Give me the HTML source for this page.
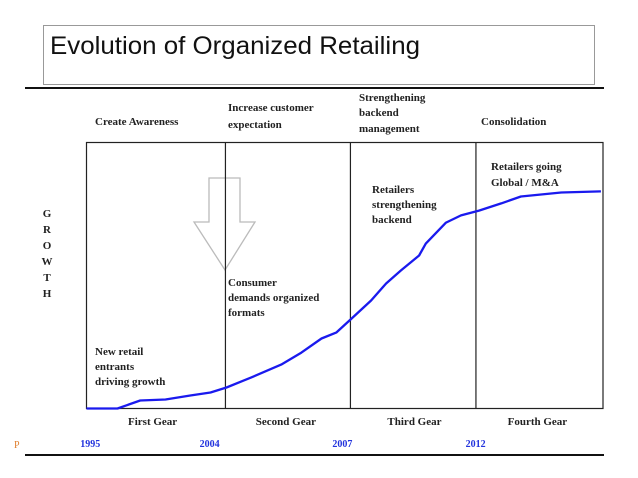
<!DOCTYPE html>
<html><head><meta charset="utf-8"><style>
body{margin:0;background:#fff;}
svg{display:block;}
.h{font-family:"Liberation Serif",serif;font-weight:bold;font-size:11px;fill:#222;}
</style></head><body>
<svg width="638" height="478">
<rect x="43.5" y="25.5" width="551" height="59" fill="none" stroke="#999"/>
<text x="50" y="54" font-family="Liberation Sans,sans-serif" font-size="25" textLength="370" lengthAdjust="spacingAndGlyphs" fill="#111">Evolution of Organized Retailing</text>
<line x1="25" y1="88" x2="604" y2="88" stroke="#111" stroke-width="2"/>
<line x1="25" y1="455" x2="604" y2="455" stroke="#111" stroke-width="2"/>
<g class="h">
<text x="95" y="125">Create Awareness</text>
<text x="228" y="111">Increase customer</text><text x="228" y="128">expectation</text>
<text x="359" y="101">Strengthening</text><text x="359" y="116">backend</text><text x="359" y="132">management</text>
<text x="481" y="125">Consolidation</text>
</g>
<path d="M209,178 H240 V222 H255 L225,270 L194,222 H209 Z" fill="none" stroke="#bbb" stroke-width="1.3"/>
<rect x="86.5" y="142.5" width="516.5" height="266" fill="none" stroke="#222" stroke-width="1.2"/>
<g id="dividers"></g>
<path id="curve" fill="none" stroke="#1a1aee" stroke-width="2.3" stroke-linejoin="round"/>
<g class="h">
<text x="491" y="170">Retailers going</text><text x="491" y="186">Global / M&amp;A</text>
<text x="372" y="193">Retailers</text><text x="372" y="208">strengthening</text><text x="372" y="223">backend</text>
<text x="228" y="286">Consumer</text><text x="228" y="301">demands organized</text><text x="228" y="316">formats</text>
<text x="95" y="355">New retail</text><text x="95" y="370">entrants</text><text x="95" y="385">driving growth</text>
</g>
<g class="h" font-size="12">
<text x="47" y="217" text-anchor="middle">G</text><text x="47" y="233" text-anchor="middle">R</text><text x="47" y="249" text-anchor="middle">O</text><text x="47" y="265" text-anchor="middle">W</text><text x="47" y="281" text-anchor="middle">T</text><text x="47" y="297" text-anchor="middle">H</text>
</g>
<g id="gears" class="h"></g>
<g id="years" class="h"></g>
<text x="14" y="448" font-family="Liberation Serif,serif" font-size="10" fill="#e08030">P</text>
</svg>
<script>
const progress=[0,6,10.4,15.3,20.1,24,27.1,31.9,37.7,41.6,45.5,48.4,51.3,55.1,58,60.9,64.4,65.7,69.6,72.5,76,80.3,84.1,91.9,99.6];
const growth=[0,0,3,3.4,4.9,6,7.9,11.7,16.5,21,26.3,28.6,33.8,40.6,47,51.9,57.5,62,69.9,72.6,74.4,77.1,79.7,81.2,81.6];
const dividerAt=[26.9,51.1,75.4];
const gearLabels=["First Gear","Second Gear","Third Gear","Fourth Gear"];
const gearCenters=[12.8,38.6,63.5,87.3];
const yearLabels=["1995","2004","2007","2012"];
const yearPos=[-1.2,21.9,47.6,73.4];
const X=u=>86.5+u*5.165, Y=g=>408.5-g*2.66;
const NS="http://www.w3.org/2000/svg";
let d="";progress.forEach((p,i)=>{d+=(i?"L":"M")+X(p).toFixed(1)+","+Y(growth[i]).toFixed(1);});
document.getElementById("curve").setAttribute("d",d);
const dv=document.getElementById("dividers");
dividerAt.forEach(u=>{const l=document.createElementNS(NS,"line");
l.setAttribute("x1",X(u));l.setAttribute("x2",X(u));l.setAttribute("y1",142.5);l.setAttribute("y2",408.5);
l.setAttribute("stroke","#222");l.setAttribute("stroke-width","1.2");


dv.appendChild(l);});
const gg=document.getElementById("gears");
gearLabels.forEach((t,i)=>{const e=document.createElementNS(NS,"text");
e.setAttribute("x",X(gearCenters[i]));e.setAttribute("y",425);e.setAttribute("text-anchor","middle");e.textContent=t;


gg.appendChild(e);});
const yg=document.getElementById("years");
yearLabels.forEach((t,i)=>{const e=document.createElementNS(NS,"text");
e.setAttribute("x",X(yearPos[i]));e.setAttribute("y",447);e.setAttribute("fill","#2233dd");e.setAttribute("font-size","10");e.textContent=t;


yg.appendChild(e);});
</script>
</body></html>
